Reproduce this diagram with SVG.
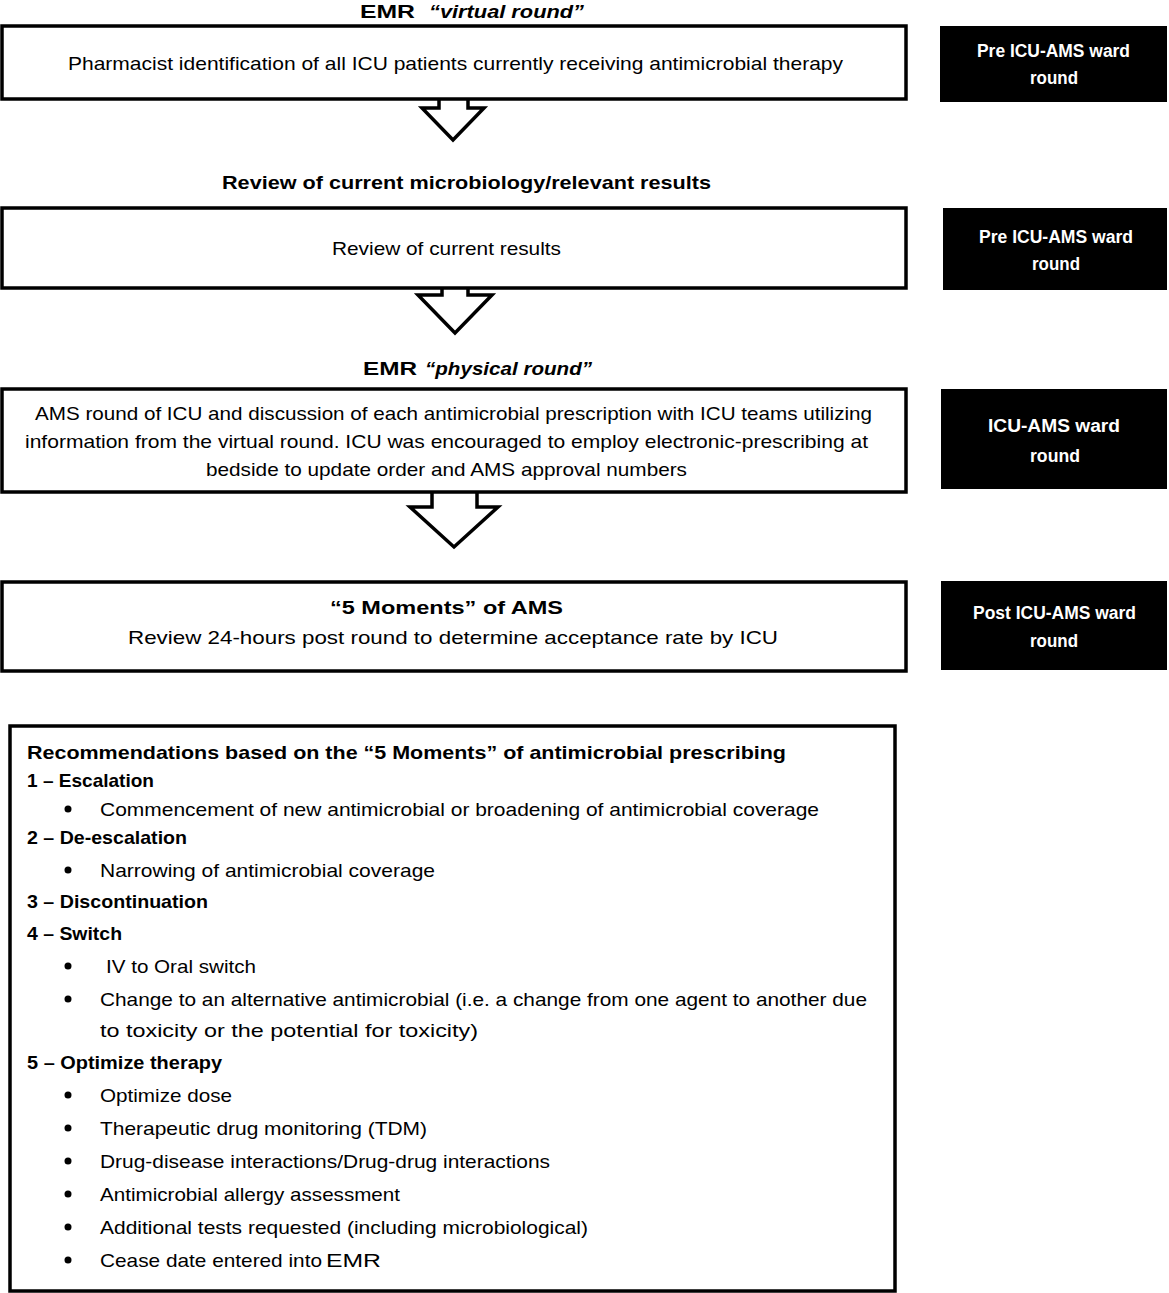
<svg xmlns="http://www.w3.org/2000/svg" width="1169" height="1293" viewBox="0 0 1169 1293">
<style>
.box{fill:#fff;stroke:#000;stroke-width:3.5}
.blk{fill:#000}
.t{font-family:"Liberation Sans",Arial,sans-serif;font-size:19px;fill:#000}
.b{font-weight:bold}
.i{font-style:italic}
.w{fill:#fff;font-weight:bold;font-size:18px}
.arr{fill:#fff;stroke:#000;stroke-width:3.5;stroke-linejoin:miter}
</style>
<rect width="1169" height="1293" fill="#fff"/>

<g id="title1">
<text class="t b" x="360" y="18" font-size="20" textLength="55" lengthAdjust="spacingAndGlyphs">EMR</text>
<text class="t b i" x="429" y="18" font-size="20" textLength="155" lengthAdjust="spacingAndGlyphs">“virtual round”</text>
</g>

<g id="connectors">
<path class="arr" d="M439,98 L439,108 L422,108 L453,140 L484,108 L468,108 L468,98"/>
<path class="arr" d="M442,287 L442,295 L418,295 L455,333 L492,295 L468,295 L468,287"/>
<path class="arr" d="M432,491 L432,507 L410,507 L454,547 L498,507 L477,507 L477,491"/>
</g>

<g id="node1">
<rect class="box" x="2" y="26" width="904" height="73"/>
<text class="t" x="68" y="70" textLength="775" lengthAdjust="spacingAndGlyphs">Pharmacist identification of all ICU patients currently receiving antimicrobial therapy</text>
</g>

<g id="label2">
<text class="t b" x="222" y="189" textLength="489" lengthAdjust="spacingAndGlyphs">Review of current microbiology/relevant results</text>
</g>

<g id="node2">
<rect class="box" x="2" y="208" width="904" height="80"/>
<text class="t" x="332" y="255" textLength="229" lengthAdjust="spacingAndGlyphs">Review of current results</text>
</g>

<g id="label3">
<text class="t b" x="363" y="375" font-size="20" textLength="54" lengthAdjust="spacingAndGlyphs">EMR</text>
<text class="t b i" x="425" y="375" font-size="20" textLength="167" lengthAdjust="spacingAndGlyphs">“physical round”</text>
</g>

<g id="node3">
<rect class="box" x="2" y="389" width="904" height="103"/>
<text class="t" x="35" y="420" textLength="837" lengthAdjust="spacingAndGlyphs">AMS round of ICU and discussion of each antimicrobial prescription with ICU teams utilizing</text>
<text class="t" x="25" y="448" textLength="843" lengthAdjust="spacingAndGlyphs">information from the virtual round. ICU was encouraged to employ electronic-prescribing at</text>
<text class="t" x="206" y="476" textLength="481" lengthAdjust="spacingAndGlyphs">bedside to update order and AMS approval numbers</text>
</g>

<g id="node4">
<rect class="box" x="2" y="582" width="904" height="89"/>
<text class="t b" x="330" y="614" font-size="21" textLength="233" lengthAdjust="spacingAndGlyphs">“5 Moments” of AMS</text>
<text class="t" x="128" y="644" font-size="21" textLength="650" lengthAdjust="spacingAndGlyphs">Review 24-hours post round to determine acceptance rate by ICU</text>
</g>

<g id="side1">
<rect class="blk" x="940" y="26" width="227" height="76"/>
<text class="t w" x="977" y="57" textLength="153" lengthAdjust="spacingAndGlyphs">Pre ICU-AMS ward</text>
<text class="t w" x="1030" y="84" textLength="48" lengthAdjust="spacingAndGlyphs">round</text>
</g>

<g id="side2">
<rect class="blk" x="943" y="208" width="224" height="82"/>
<text class="t w" x="979" y="243" textLength="154" lengthAdjust="spacingAndGlyphs">Pre ICU-AMS ward</text>
<text class="t w" x="1032" y="270" textLength="48" lengthAdjust="spacingAndGlyphs">round</text>
</g>

<g id="side3">
<rect class="blk" x="941" y="389" width="226" height="100"/>
<text class="t w" x="988" y="432" font-size="20" textLength="132" lengthAdjust="spacingAndGlyphs">ICU-AMS ward</text>
<text class="t w" x="1030" y="462" font-size="20" textLength="50" lengthAdjust="spacingAndGlyphs">round</text>
</g>

<g id="side4">
<rect class="blk" x="941" y="581" width="226" height="89"/>
<text class="t w" x="973" y="619" textLength="163" lengthAdjust="spacingAndGlyphs">Post ICU-AMS ward</text>
<text class="t w" x="1030" y="647" textLength="48" lengthAdjust="spacingAndGlyphs">round</text>
</g>

<g id="node5">
<rect class="box" x="10" y="726" width="885" height="565"/>
<text class="t b" x="27" y="759" font-size="20" textLength="759" lengthAdjust="spacingAndGlyphs">Recommendations based on the “5 Moments” of antimicrobial prescribing</text>
<text class="t b" x="27" y="787" textLength="127" lengthAdjust="spacingAndGlyphs">1 – Escalation</text>
<circle cx="68" cy="809" r="3.5"/>
<text class="t" x="100" y="816" textLength="719" lengthAdjust="spacingAndGlyphs">Commencement of new antimicrobial or broadening of antimicrobial coverage</text>
<text class="t b" x="27" y="844" textLength="160" lengthAdjust="spacingAndGlyphs">2 – De-escalation</text>
<circle cx="68" cy="870" r="3.5"/>
<text class="t" x="100" y="877" textLength="335" lengthAdjust="spacingAndGlyphs">Narrowing of antimicrobial coverage</text>
<text class="t b" x="27" y="908" textLength="181" lengthAdjust="spacingAndGlyphs">3 – Discontinuation</text>
<text class="t b" x="27" y="940" textLength="95" lengthAdjust="spacingAndGlyphs">4 – Switch</text>
<circle cx="68" cy="966" r="3.5"/>
<text class="t" x="106" y="973" textLength="150" lengthAdjust="spacingAndGlyphs">IV to Oral switch</text>
<circle cx="68" cy="999" r="3.5"/>
<text class="t" x="100" y="1006" textLength="767" lengthAdjust="spacingAndGlyphs">Change to an alternative antimicrobial (i.e. a change from one agent to another due</text>
<text class="t" x="100" y="1037" textLength="378" lengthAdjust="spacingAndGlyphs">to toxicity or the potential for toxicity)</text>
<text class="t b" x="27" y="1069" textLength="195" lengthAdjust="spacingAndGlyphs">5 – Optimize therapy</text>
<circle cx="68" cy="1095" r="3.5"/>
<text class="t" x="100" y="1102" textLength="132" lengthAdjust="spacingAndGlyphs">Optimize dose</text>
<circle cx="68" cy="1128" r="3.5"/>
<text class="t" x="100" y="1135" textLength="327" lengthAdjust="spacingAndGlyphs">Therapeutic drug monitoring (TDM)</text>
<circle cx="68" cy="1161" r="3.5"/>
<text class="t" x="100" y="1168" textLength="450" lengthAdjust="spacingAndGlyphs">Drug-disease interactions/Drug-drug interactions</text>
<circle cx="68" cy="1194" r="3.5"/>
<text class="t" x="100" y="1201" textLength="300" lengthAdjust="spacingAndGlyphs">Antimicrobial allergy assessment</text>
<circle cx="68" cy="1227" r="3.5"/>
<text class="t" x="100" y="1234" textLength="488" lengthAdjust="spacingAndGlyphs">Additional tests requested (including microbiological)</text>
<circle cx="68" cy="1260" r="3.5"/>
<text class="t" x="100" y="1267" textLength="222" lengthAdjust="spacingAndGlyphs">Cease date entered into</text>
<text class="t" x="326" y="1267" font-size="21" textLength="55" lengthAdjust="spacingAndGlyphs">EMR</text>
</g>
</svg>
